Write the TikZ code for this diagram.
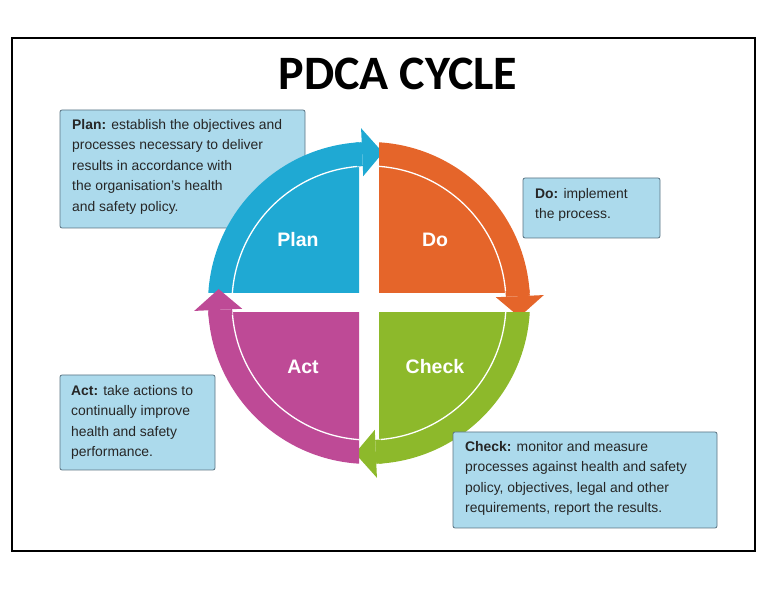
\documentclass[tikz,border=0pt]{standalone}
\usepackage{fontspec}
\setmainfont{Liberation Sans}
\newfontfamily\titlefont{Carlito}
\definecolor{cplan}{RGB}{31,169,211}
\definecolor{cdo}{RGB}{229,101,42}
\definecolor{ccheck}{RGB}{141,185,43}
\definecolor{cact}{RGB}{190,74,150}
\definecolor{boxfill}{RGB}{172,218,236}
\definecolor{boxline}{RGB}{90,115,130}
\tikzset{
 infobox/.style={fill=boxfill,draw=boxline,line width=0.8pt,rounded corners=2pt},
 infotext/.style={anchor=north west,inner sep=0pt,align=left,font=\fontsize{13.9}{20.5}\selectfont,text=black!85},
 qlabel/.style={text=white,font=\fontsize{19.5}{22}\selectfont\bfseries}
}
\begin{document}
\begin{tikzpicture}[x=1pt,y=1pt]
\useasboundingbox (0,0) rectangle (768,594);
\draw[line width=1.8pt] (12,43) rectangle (755,556);
\node (title) at (398,520) {\titlefont\bfseries\fontsize{48}{52}\selectfont PDCA CYCLE};
\draw[infobox] (60,484) rectangle (305,366);
\node[infotext] (tplan) at (72,475) {\textbf{Plan:} establish the objectives and\\processes necessary to deliver\\results in accordance with\\the organisation's health\\and safety policy.};
\draw[infobox] (60,219) rectangle (215,124);
\node[infotext] (tact) at (71,209) {\textbf{Act:} take actions to\\continually improve\\health and safety\\performance.};
\begin{scope}[shift={(369,291)}]
\foreach \col/\e/\xa/\ya/\xb/\yb in {cplan/90/-200/10/-10/200, cdo/0/10/10/200/200, ccheck/-90/10/-200/200/-10, cact/180/-200/-200/-10/-10}{
  \begin{scope}
   \clip (\xa,\ya) rectangle (\xb,\yb);
   \fill[\col] (0,0) circle (161);
   \draw[white,line width=1.3pt] (0,0) circle (137);
  \end{scope}
  \fill[\col] (\e+5:137) -- (\e+5:161) -- (\e+2.6:161) -- (\e+2.6:137) -- cycle;
  \fill[\col] (\e+2.6:127) -- (\e+2.6:175) -- (\e-5.3:151) -- cycle;
}
\end{scope}
\node[qlabel] (lplan) at (298,354) {Plan};
\node[qlabel] (ldo) at (435,354) {Do};
\node[qlabel] (lact) at (303,227) {Act};
\node[qlabel] (lcheck) at (435,227) {Check};
\draw[infobox] (523,416) rectangle (660,356);
\node[infotext] (tdo) at (535,406) {\textbf{Do:} implement\\the process.};
\draw[infobox] (453,162) rectangle (717,66);
\node[infotext] (tcheck) at (465,153) {\textbf{Check:} monitor and measure\\processes against health and safety\\policy, objectives, legal and other\\requirements, report the results.};
\end{tikzpicture}
\end{document}
